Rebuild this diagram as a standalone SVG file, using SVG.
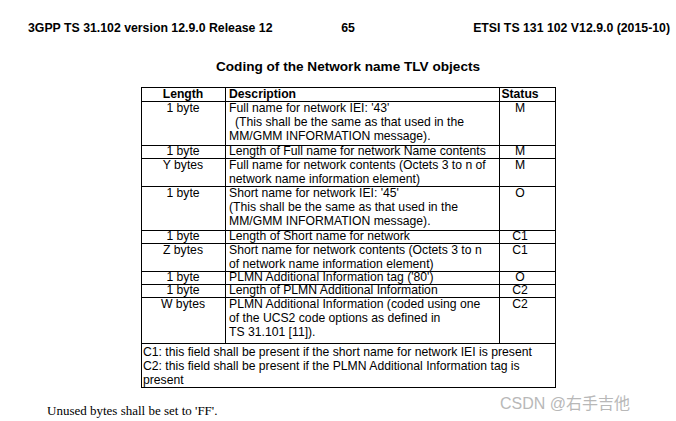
<svg xmlns="http://www.w3.org/2000/svg" width="676" height="421" viewBox="0 0 676 421">
<style>
text{font-family:"Liberation Sans",Arial,sans-serif;font-size:12.2px;fill:#000}
.b{font-weight:bold}
.c{text-anchor:middle}
.h{font-size:12.3px;font-weight:bold}
line{stroke:#000;stroke-width:1}
</style>
<rect width="676" height="421" fill="#fff"/>
<text x="28" y="32" class="h">3GPP TS 31.102 version 12.9.0 Release 12</text>
<text x="348" y="32" class="h c">65</text>
<text x="670" y="32" class="h" style="text-anchor:end">ETSI TS 131 102 V12.9.0 (2015-10)</text>
<text x="348" y="71" class="b c" style="font-size:13.6px">Coding of the Network name TLV objects</text>
<g id="table">
<rect x="141.5" y="87.5" width="414" height="300" fill="none" stroke="#000"/>
<line x1="225.5" y1="87" x2="225.5" y2="343"/>
<line x1="499.5" y1="87" x2="499.5" y2="343"/>
<line x1="141" y1="101.5" x2="556" y2="101.5"/>
<line x1="141" y1="145.5" x2="556" y2="145.5"/>
<line x1="141" y1="158.5" x2="556" y2="158.5"/>
<line x1="141" y1="186.5" x2="556" y2="186.5"/>
<line x1="141" y1="230.5" x2="556" y2="230.5"/>
<line x1="141" y1="243.5" x2="556" y2="243.5"/>
<line x1="141" y1="271.5" x2="556" y2="271.5"/>
<line x1="141" y1="284.5" x2="556" y2="284.5"/>
<line x1="141" y1="297.5" x2="556" y2="297.5"/>
<line x1="141" y1="343.5" x2="556" y2="343.5"/>
</g>
<g id="cells">
<text x="183" y="98" class="b c">Length</text>
<text x="229" y="98" class="b">Description</text>
<text x="520" y="98" class="b c">Status</text>

<text x="183" y="112" class="c">1 byte</text>
<text x="229" y="112">Full name for network IEI: '43'</text>
<text x="235" y="126">(This shall be the same as that used in the</text>
<text x="229" y="140">MM/GMM INFORMATION message).</text>
<text x="520" y="112" class="c">M</text>

<text x="183" y="155" class="c">1 byte</text>
<text x="229" y="155">Length of Full name for network Name contents</text>
<text x="520" y="155" class="c">M</text>

<text x="183" y="169" class="c">Y bytes</text>
<text x="229" y="169">Full name for network contents (Octets 3 to n of</text>
<text x="229" y="183">network name information element)</text>
<text x="520" y="169" class="c">M</text>

<text x="183" y="197" class="c">1 byte</text>
<text x="229" y="197">Short name for network IEI: '45'</text>
<text x="229" y="211">(This shall be the same as that used in the</text>
<text x="229" y="225">MM/GMM INFORMATION message).</text>
<text x="520" y="197" class="c">O</text>

<text x="183" y="240" class="c">1 byte</text>
<text x="229" y="240">Length of Short name for network</text>
<text x="520" y="240" class="c">C1</text>

<text x="183" y="254" class="c">Z bytes</text>
<text x="229" y="254">Short name for network contents (Octets 3 to n</text>
<text x="229" y="268">of network name information element)</text>
<text x="520" y="254" class="c">C1</text>

<text x="183" y="281" class="c">1 byte</text>
<text x="229" y="281">PLMN Additional Information tag ('80')</text>
<text x="520" y="281" class="c">O</text>

<text x="183" y="294" class="c">1 byte</text>
<text x="229" y="294">Length of PLMN Additional Information</text>
<text x="520" y="294" class="c">C2</text>

<text x="183" y="308" class="c">W bytes</text>
<text x="229" y="308">PLMN Additional Information (coded using one</text>
<text x="229" y="322">of the UCS2 code options as defined in</text>
<text x="229" y="336">TS 31.101 [11]).</text>
<text x="520" y="308" class="c">C2</text>

<text x="143" y="356">C1: this field shall be present if the short name for network IEI is present</text>
<text x="143" y="370">C2: this field shall be present if the PLMN Additional Information tag is</text>
<text x="143" y="384">present</text>
</g>
<text x="47" y="415" style="font-family:'Liberation Serif',serif;font-size:13px">Unused bytes shall be set to 'FF'.</text>
<text x="500" y="409" style="font-family:'Liberation Sans','Noto Sans CJK SC',sans-serif;font-size:16px;fill:#b8b8b8">CSDN @右手吉他</text>
</svg>
